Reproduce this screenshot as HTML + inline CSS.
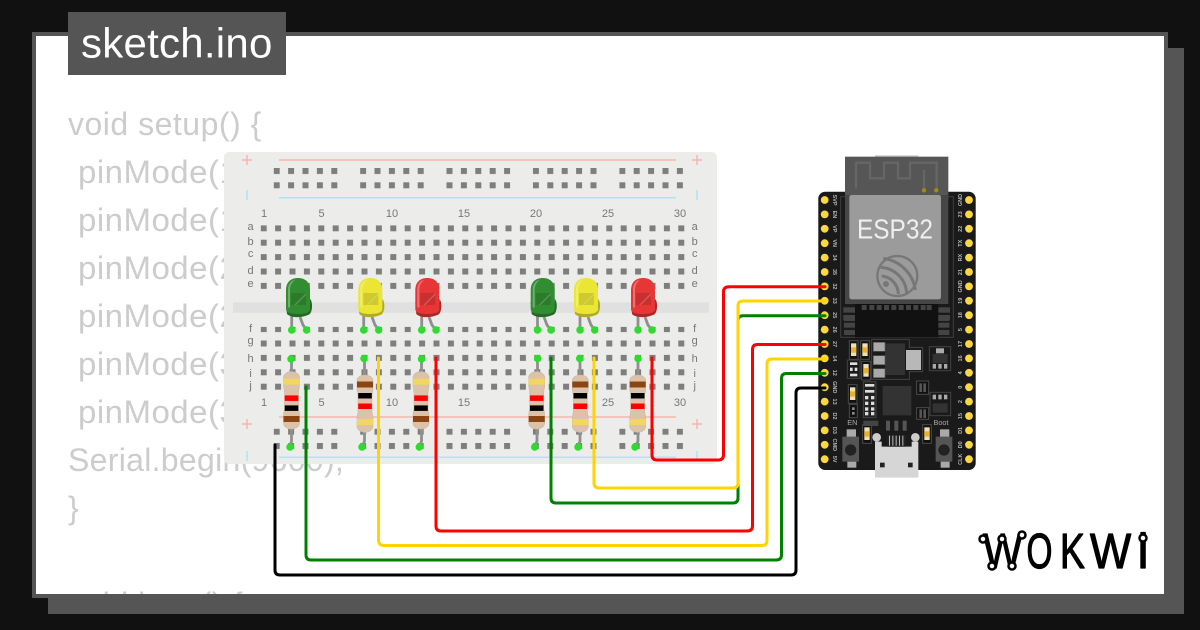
<!DOCTYPE html>
<html><head><meta charset="utf-8"><title>sketch.ino</title>
<style>html,body{margin:0;padding:0;background:#111}svg{display:block}text{font-family:"Liberation Sans",sans-serif}</style></head>
<body>
<svg xmlns="http://www.w3.org/2000/svg" width="1200" height="630" viewBox="0 0 1200 630">
<defs>
<clipPath id="cc"><rect x="36" y="36" width="1128" height="558"/></clipPath>
<pattern id="hm" patternUnits="userSpaceOnUse" x="260.7" y="225.3" width="14.4" height="14.4"><rect width="6" height="6" fill="#7e7e7e"/></pattern>
<pattern id="hp" patternUnits="userSpaceOnUse" x="273.7" y="168" width="14.4" height="14.3"><rect width="6" height="6" fill="#7e7e7e"/></pattern>
<g id="pw">
<rect x="273.7" y="168" width="64" height="22" fill="url(#hp)"/>
<rect x="360.1" y="168" width="64" height="22" fill="url(#hp)"/>
<rect x="446.5" y="168" width="64" height="22" fill="url(#hp)"/>
<rect x="532.9" y="168" width="64" height="22" fill="url(#hp)"/>
<rect x="619.3" y="168" width="64" height="22" fill="url(#hp)"/>
</g>
<path id="rb" d="M-8 6C-8 2-4 0 0 0S8 2 8 6V13C8 17 7 18 7 21V36C7 39 8 40 8 44V51C8 55 4 57.3 0 57.3S-8 55-8 51V44C-8 40-7 39-7 36V21C-7 18-8 17-8 13Z" fill="#dcc2a8" stroke="#cdb79f" stroke-width=".6"/>
<g id="r1"><use href="#rb"/>
<rect x="-8" y="7" width="16" height="6" fill="#f2d75f"/><rect x="-6.8" y="23.7" width="13.600" height="5.5" fill="#f00"/><rect x="-6.8" y="33.7" width="13.600" height="5.5" fill="#000"/><rect x="-8" y="44.3" width="16" height="6" fill="#8b4513"/></g>
<g id="r2"><use href="#rb"/>
<rect x="-8" y="6.5" width="16" height="6" fill="#8b4513"/><rect x="-6.8" y="18" width="13.600" height="5.5" fill="#000"/><rect x="-6.8" y="28.5" width="13.600" height="5.5" fill="#f00"/><rect x="-8" y="44" width="16" height="6" fill="#f2d75f"/></g>
<g id="led">
<path d="M0 24H24V21C27 23 27 36 22 37C15 40 5 40 1 36Z" fill="currentColor"/>
<path d="M0 24H24V21C27 23 27 36 22 37C15 40 5 40 1 36Z" fill="#000" opacity=".25"/>
<path d="M0 12C0 4 5 0 12 0S24 4 24 12V31C24 35 18 36 12 36S0 35 0 31Z" fill="currentColor"/>
<path d="M5 15H20V27H5Z" fill="#000" opacity=".12"/>
<path d="M10 27L20 17V15L8 27Z" fill="#fff" opacity=".2"/>
<path d="M2 12C2 6 5 2.500 9 2C5 5 4 8 4 13V30L2 29Z" fill="#fff" opacity=".3"/>
</g>
<g id="gcap"><rect x="-13" y="-28" width="26" height="56" fill="#111" stroke="#4a4a4a" stroke-width="3"/><rect x="-8" y="-20" width="16" height="38" fill="#eee1b8"/><rect x="-8" y="-8" width="16" height="16" fill="#e8b32a"/></g>
</defs>

<rect width="1200" height="630" fill="#111"/>
<rect x="48" y="48" width="1136" height="566" fill="#555"/>
<rect x="32" y="32" width="1136" height="566" fill="#555"/>
<rect x="36" y="36" width="1128" height="558" fill="#fff"/>

<g clip-path="url(#cc)" fill="#ccc" font-size="32" letter-spacing=".5">
<text x="68" y="135">void setup() {</text>
<text transform="translate(78 183) scale(1.03 1)">pinMode(13, OUTPUT);</text>
<text transform="translate(78 231) scale(1.03 1)">pinMode(12, OUTPUT);</text>
<text transform="translate(78 279) scale(1.03 1)">pinMode(25, OUTPUT);</text>
<text transform="translate(78 327) scale(1.03 1)">pinMode(26, OUTPUT);</text>
<text transform="translate(78 375) scale(1.03 1)">pinMode(32, OUTPUT);</text>
<text transform="translate(78 423) scale(1.03 1)">pinMode(33, OUTPUT);</text>
<text x="68" y="471" letter-spacing=".3">Serial.begin(9600);</text>
<text x="68" y="519">}</text>
<text x="68" y="615">void loop() {</text>
</g>

<rect x="68" y="12" width="218" height="63" fill="#555"/>
<text x="81" y="57.500" font-size="42" fill="#fff" letter-spacing=".25">sketch.ino</text>

<!-- breadboard -->
<rect x="224" y="152" width="493" height="312" rx="5" fill="#ececeb"/>
<rect x="233" y="302.300" width="476" height="10.500" fill="#e0e0e0"/>
<g stroke-width="1.500" fill="none">
<path d="M279 160H676M279 417H676" stroke="#f5b5ad"/>
<path d="M279 197.700H676M279 457.300H676" stroke="#aee3f3"/>
<path d="M242 160H252M247 155V165M692 160H702M697 155V165M242 424H252M247 419V429M692 424H702M697 419V429" stroke="#f5b5ad"/>
<path d="M247 190V200M697 190V200M247 451V461M697 451V461" stroke="#aee3f3"/>
</g>
<rect x="260.700" y="225.300" width="426" height="64" fill="url(#hm)"/>
<rect x="260.700" y="326.900" width="426" height="64" fill="url(#hm)"/>
<use href="#pw"/>
<use href="#pw" y="260.700"/>

<g font-size="11" fill="#777" text-anchor="middle">
<text x="264" y="217">1</text><text x="321.600" y="217">5</text><text x="392" y="217">10</text><text x="464" y="217">15</text><text x="536" y="217">20</text><text x="608" y="217">25</text><text x="680" y="217">30</text>
<text x="264" y="406">1</text><text x="321.600" y="406">5</text><text x="392" y="406">10</text><text x="464" y="406">15</text><text x="608" y="406">25</text><text x="680" y="406">30</text>
<text x="250.600" y="230">a</text><text x="250.600" y="245">b</text><text x="250.600" y="257">c</text><text x="250.600" y="274">d</text><text x="250.600" y="287">e</text>
<text x="250.600" y="332">f</text><text x="250.600" y="344">g</text><text x="250.600" y="362">h</text><text x="250.600" y="377">i</text><text x="250.600" y="389">j</text>
<text x="694.700" y="230">a</text><text x="694.700" y="245">b</text><text x="694.700" y="257">c</text><text x="694.700" y="274">d</text><text x="694.700" y="287">e</text>
<text x="694.700" y="332">f</text><text x="694.700" y="344">g</text><text x="694.700" y="362">h</text><text x="694.700" y="377">i</text><text x="694.700" y="389">j</text>
</g>

<!-- LED legs -->
<g stroke="#8f8f8f" stroke-width="2.800" fill="none">
<path d="M291.700 315V330M300 317L303 325L306.600 330"/>
<path d="M363.700 315V330M372 317L375 325L378.700 330"/>
<path d="M421.700 315V330M429 317L432 325L436 330"/>
<path d="M537.500 315V330M544 317L547 325L551 330"/>
<path d="M580 315V330M588 317L591 325L594.700 330"/>
<path d="M638 315V330M645 317L648 325L652 330"/>
<!-- resistor leads -->
<path d="M291.500 359V375M291.500 425V441L290 447"/>
<path d="M364.500 358V378M364.500 428V441L362 447"/>
<path d="M421.500 359V375M421.500 425V441L419.300 447"/>
<path d="M537.500 358V375M537 425V441L534.700 447"/>
<path d="M580 358V378M580 428V441L578 447"/>
<path d="M638 358V378M638 428V441L635 447"/>
</g>

<use href="#led" x="286" y="278" style="color:#328c32"/>
<use href="#led" x="358.300" y="278" style="color:#ebe534"/>
<use href="#led" x="415.300" y="278" style="color:#e63636"/>
<use href="#led" x="530.700" y="278" style="color:#328c32"/>
<use href="#led" x="574" y="278" style="color:#ebe534"/>
<use href="#led" x="631" y="278" style="color:#e63636"/>

<use href="#r1" x="291.500" y="371.700"/>
<use href="#r2" x="365" y="375"/>
<use href="#r1" x="421" y="371.700"/>
<use href="#r1" x="536.700" y="371.700"/>
<use href="#r2" x="580.300" y="375"/>
<use href="#r2" x="637.700" y="375"/>

<g fill="#4c4" stroke="#1be81b" stroke-width="1.500">
<circle cx="291.700" cy="330" r="3"/><circle cx="306.600" cy="330" r="3"/><circle cx="363.700" cy="330" r="3"/><circle cx="378.700" cy="330" r="3"/><circle cx="421.700" cy="330" r="3"/><circle cx="436" cy="330" r="3"/>
<circle cx="537.500" cy="330" r="3"/><circle cx="551" cy="330" r="3"/><circle cx="580" cy="330" r="3"/><circle cx="594.700" cy="330" r="3"/><circle cx="638" cy="330" r="3"/><circle cx="652" cy="330" r="3"/>
<circle cx="291" cy="359" r="3"/><circle cx="364" cy="358.500" r="3"/><circle cx="421.500" cy="359" r="3"/><circle cx="537.700" cy="358.500" r="3"/><circle cx="579.700" cy="358.500" r="3"/><circle cx="638" cy="358.500" r="3"/>
<circle cx="290" cy="447" r="3"/><circle cx="362" cy="447" r="3"/><circle cx="419.300" cy="447" r="3"/><circle cx="534.700" cy="447" r="3"/><circle cx="578" cy="447" r="3"/><circle cx="635" cy="447" r="3"/>
</g>

<!-- ESP32 -->
<rect x="818.300" y="191.700" width="157.400" height="278.300" rx="7" fill="#1a1a1a"/>
<g transform="translate(810 150) scale(.33333)">
<rect x="195" y="16" width="130" height="6" fill="#c8c8c8"/>
<rect x="105" y="20" width="310" height="130" fill="#565656"/>
<path d="M138 115V38H180V85H222V38H264V85H300V38H345V38H380V115M342 115V60" fill="none" stroke="#666" stroke-width="7"/>
<circle cx="342" cy="121" r="6.500" fill="#a58a12"/><circle cx="379" cy="121" r="6.500" fill="#a58a12"/>
<rect x="92" y="140" width="338" height="422" fill="none" stroke="#3e3e3e" stroke-width="3"/>
<rect x="135" y="462" width="250" height="100" fill="#111"/>
<rect x="105" y="135" width="310" height="327" fill="#464646"/>
<rect x="118" y="135" width="275" height="313" rx="7" fill="#9b9b9b"/>
<text x="255" y="265" font-size="84" fill="#efefef" text-anchor="middle" textLength="228" lengthAdjust="spacingAndGlyphs">ESP32</text>
<g fill="none" stroke="#777" stroke-width="7">
<circle cx="262" cy="378" r="60"/>
<path d="M212 352A82 82 0 0 1 290 432M220 325A112 112 0 0 1 316 420M215 378A55 55 0 0 1 265 432" stroke-width="9"/>
</g>
<circle cx="228" cy="402" r="9" fill="#777"/>
<g fill="#444"><rect x="155" y="465" width="15" height="15"/><rect x="178" y="465" width="15" height="15"/><rect x="200" y="465" width="15" height="15"/><rect x="222" y="465" width="15" height="15"/><rect x="244" y="465" width="15" height="15"/><rect x="266" y="465" width="15" height="15"/><rect x="288" y="465" width="15" height="15"/><rect x="310" y="465" width="15" height="15"/><rect x="332" y="465" width="15" height="15"/><rect x="350" y="465" width="15" height="15"/>
<rect x="100" y="472" width="35" height="16"/><rect x="100" y="495" width="35" height="16"/><rect x="385" y="472" width="35" height="16"/><rect x="385" y="495" width="35" height="16"/></g>
</g>
<g transform="translate(810 310) scale(.33333)">
<g fill="#444"><rect x="102" y="15" width="33" height="18"/><rect x="102" y="38" width="33" height="15"/><rect x="102" y="60" width="33" height="15"/><rect x="385" y="15" width="33" height="18"/><rect x="385" y="38" width="33" height="15"/><rect x="385" y="60" width="33" height="15"/></g>
<use href="#gcap" x="131" y="120"/><use href="#gcap" x="165" y="120"/><use href="#gcap" x="168" y="182"/><use href="#gcap" x="128" y="252"/><use href="#gcap" x="171" y="372"/><use href="#gcap" x="351" y="372"/>
<path d="M185 88H298V112H338V185H298V208H185Z" fill="none" stroke="#444" stroke-width="3"/>
<rect x="225" y="100" width="60" height="95" fill="#333"/>
<g fill="#a9a9a9" stroke="#555" stroke-width="2"><rect x="190" y="97" width="35" height="27"/><rect x="190" y="137" width="35" height="27"/><rect x="190" y="176" width="35" height="27"/></g>
<rect x="288" y="120" width="45" height="60" fill="#b8b8b8"/>
<rect x="112" y="150" width="38" height="55" fill="none" stroke="#444" stroke-width="3"/>
<g fill="#ddd"><rect x="120" y="157" width="22" height="8"/><rect x="120" y="173" width="8" height="10"/><rect x="134" y="173" width="8" height="10"/><rect x="120" y="191" width="22" height="8"/></g>
<rect x="358" y="110" width="64" height="72" fill="none" stroke="#444" stroke-width="3"/>
<rect x="378" y="115" width="24" height="15" fill="#aaa"/><rect x="368" y="132" width="45" height="28" fill="#333"/>
<g fill="#aaa"><rect x="368" y="162" width="10" height="14"/><rect x="385" y="162" width="10" height="14"/><rect x="402" y="162" width="10" height="14"/></g>
<rect x="360" y="247" width="62" height="70" fill="none" stroke="#444" stroke-width="3"/>
<rect x="368" y="280" width="45" height="28" fill="#333"/>
<g fill="#aaa"><rect x="368" y="254" width="10" height="14"/><rect x="385" y="254" width="10" height="14"/><rect x="402" y="254" width="10" height="14"/></g>
<rect x="218" y="228" width="86" height="88" fill="#333"/>
<rect x="160" y="215" width="38" height="108" fill="#222" stroke="#444" stroke-width="3"/>
<g fill="#ddd"><rect x="165" y="222" width="28" height="8"/><rect x="165" y="240" width="28" height="8"/><rect x="165" y="258" width="10" height="10"/><rect x="183" y="258" width="10" height="10"/><rect x="165" y="275" width="10" height="10"/><rect x="183" y="275" width="10" height="10"/><rect x="165" y="292" width="10" height="10"/><rect x="183" y="292" width="10" height="10"/><rect x="165" y="306" width="10" height="10"/><rect x="183" y="306" width="10" height="10"/></g>
<rect x="118" y="283" width="24" height="40" fill="#111" stroke="#4a4a4a" stroke-width="3"/>
<g fill="#888"><rect x="126" y="292" width="8" height="8"/><rect x="126" y="306" width="8" height="8"/></g>
<rect x="320" y="213" width="36" height="40" fill="#111" stroke="#4a4a4a" stroke-width="3"/>
<rect x="320" y="293" width="36" height="35" fill="#111" stroke="#4a4a4a" stroke-width="3"/>
<g fill="#555"><rect x="328" y="220" width="8" height="26"/><rect x="340" y="220" width="8" height="26"/><rect x="328" y="298" width="8" height="26"/><rect x="340" y="298" width="8" height="26"/></g>
<rect x="160" y="332" width="45" height="16" fill="#444"/>
<g fill="#555"><rect x="228" y="332" width="12" height="30"/><rect x="253" y="332" width="12" height="30"/><rect x="278" y="332" width="12" height="30"/></g>
<text x="127" y="345" font-size="22" fill="#aaa" text-anchor="middle">EN</text>
<text x="393" y="345" font-size="22" fill="#aaa" text-anchor="middle">Boot</text>
<rect x="97" y="380" width="50" height="75" fill="#555"/><rect x="110" y="358" width="28" height="22" fill="#aaa"/><rect x="112" y="455" width="27" height="18" fill="#aaa"/><circle cx="122" cy="420" r="17" fill="#222"/>
<rect x="377" y="380" width="50" height="75" fill="#555"/><rect x="390" y="358" width="28" height="22" fill="#aaa"/><rect x="392" y="455" width="27" height="18" fill="#aaa"/><circle cx="402" cy="420" r="17" fill="#222"/>
<circle cx="200" cy="382" r="13" fill="#ccc"/><circle cx="316" cy="382" r="13" fill="#ccc"/>
<path d="M195 395H215V410H305V395H325V503H195Z" fill="#d6d6d6"/>
<rect x="232" y="375" width="55" height="35" fill="#222"/>
<g fill="#bbb"><rect x="237" y="377" width="3" height="30"/><rect x="247" y="377" width="3" height="30"/><rect x="257" y="377" width="3" height="30"/><rect x="267" y="377" width="3" height="30"/><rect x="277" y="377" width="3" height="30"/></g>
<rect x="210" y="458" width="14" height="14" fill="#222"/><rect x="294" y="458" width="14" height="14" fill="#222"/>
</g>

<g fill="#fbd83f">
<circle cx="824.700" cy="200" r="3.900"/><circle cx="824.700" cy="214.400" r="3.900"/><circle cx="824.700" cy="228.800" r="3.900"/><circle cx="824.700" cy="243.200" r="3.900"/><circle cx="824.700" cy="257.600" r="3.900"/><circle cx="824.700" cy="272" r="3.900"/><circle cx="824.700" cy="286.400" r="3.900"/><circle cx="824.700" cy="300.800" r="3.900"/><circle cx="824.700" cy="315.200" r="3.900"/><circle cx="824.700" cy="329.600" r="3.900"/><circle cx="824.700" cy="344" r="3.900"/><circle cx="824.700" cy="358.400" r="3.900"/><circle cx="824.700" cy="372.800" r="3.900"/><circle cx="824.700" cy="387.200" r="3.900"/><circle cx="824.700" cy="401.600" r="3.900"/><circle cx="824.700" cy="416" r="3.900"/><circle cx="824.700" cy="430.400" r="3.900"/><circle cx="824.700" cy="444.800" r="3.900"/><circle cx="824.700" cy="459.200" r="3.900"/>
<circle cx="969" cy="200" r="3.900"/><circle cx="969" cy="214.400" r="3.900"/><circle cx="969" cy="228.800" r="3.900"/><circle cx="969" cy="243.200" r="3.900"/><circle cx="969" cy="257.600" r="3.900"/><circle cx="969" cy="272" r="3.900"/><circle cx="969" cy="286.400" r="3.900"/><circle cx="969" cy="300.800" r="3.900"/><circle cx="969" cy="315.200" r="3.900"/><circle cx="969" cy="329.600" r="3.900"/><circle cx="969" cy="344" r="3.900"/><circle cx="969" cy="358.400" r="3.900"/><circle cx="969" cy="372.800" r="3.900"/><circle cx="969" cy="387.200" r="3.900"/><circle cx="969" cy="401.600" r="3.900"/><circle cx="969" cy="416" r="3.900"/><circle cx="969" cy="430.400" r="3.900"/><circle cx="969" cy="444.800" r="3.900"/><circle cx="969" cy="459.200" r="3.900"/>
</g>
<g font-size="5.500" fill="#b5b5b5" text-anchor="middle" font-weight="bold">
<text transform="translate(833 200) rotate(90)">SVP</text><text transform="translate(833 214.400) rotate(90)">EN</text><text transform="translate(833 228.800) rotate(90)">VP</text><text transform="translate(833 243.200) rotate(90)">VN</text><text transform="translate(833 257.600) rotate(90)">34</text><text transform="translate(833 272) rotate(90)">35</text><text transform="translate(833 286.400) rotate(90)">32</text><text transform="translate(833 300.800) rotate(90)">33</text><text transform="translate(833 315.200) rotate(90)">25</text><text transform="translate(833 329.600) rotate(90)">26</text><text transform="translate(833 344) rotate(90)">27</text><text transform="translate(833 358.400) rotate(90)">14</text><text transform="translate(833 372.800) rotate(90)">12</text><text transform="translate(833 387.200) rotate(90)">GND</text><text transform="translate(833 401.600) rotate(90)">13</text><text transform="translate(833 416) rotate(90)">D2</text><text transform="translate(833 430.400) rotate(90)">D3</text><text transform="translate(833 444.800) rotate(90)">CMD</text><text transform="translate(833 459.200) rotate(90)">5V</text>
<text transform="translate(962 200) rotate(-90)">GND</text><text transform="translate(962 214.400) rotate(-90)">23</text><text transform="translate(962 228.800) rotate(-90)">22</text><text transform="translate(962 243.200) rotate(-90)">TX</text><text transform="translate(962 257.600) rotate(-90)">RX</text><text transform="translate(962 272) rotate(-90)">21</text><text transform="translate(962 286.400) rotate(-90)">GND</text><text transform="translate(962 300.800) rotate(-90)">19</text><text transform="translate(962 315.200) rotate(-90)">18</text><text transform="translate(962 329.600) rotate(-90)">5</text><text transform="translate(962 344) rotate(-90)">17</text><text transform="translate(962 358.400) rotate(-90)">16</text><text transform="translate(962 372.800) rotate(-90)">4</text><text transform="translate(962 387.200) rotate(-90)">0</text><text transform="translate(962 401.600) rotate(-90)">2</text><text transform="translate(962 416) rotate(-90)">15</text><text transform="translate(962 430.400) rotate(-90)">D1</text><text transform="translate(962 444.800) rotate(-90)">D0</text><text transform="translate(962 459.200) rotate(-90)">CLK</text>
</g>

<!-- wires -->
<g fill="none" stroke-width="3" stroke-linecap="round">
<path stroke="#000" d="M275 445V570Q275 575 280 575H791Q796 575 796 570V393Q796 388 801 388H825"/>
<path stroke="#008000" d="M306 387V555Q306 560 311 560H776Q781.500 560 781.500 555V378.500Q781.500 373.500 786.500 373.500H825"/>
<path stroke="#ffd400" d="M378.500 358V540Q378.500 545.500 384 545.500H762Q767 545.500 767 540V364Q767 359 772 359H825"/>
<path stroke="#f00" d="M436 358V526Q436 531 441 531H747Q752.500 531 752.500 526V349.500Q752.500 344.500 757.500 344.500H825"/>
<path stroke="#008000" d="M551 358V498Q551 503 556 503H733Q738 503 738 498V321Q738 315.700 743 315.700H825"/>
<path stroke="#ffd400" d="M594 358V483Q594 488 599 488H733Q738 488 738 483V306Q738 301 743 301H825"/>
<path stroke="#f00" d="M652 358V455Q652 460 657 460H718Q723.500 460 723.500 455V292Q723.500 286.700 729 286.700H825"/>
</g>

<!-- logo -->
<g font-size="49" fill="#000" stroke="#000" stroke-width="1.200" stroke-linejoin="round">
<text transform="translate(983 568) scale(.85 1)">W</text>
<text transform="translate(1026.500 568) scale(.68 1)">O</text>
<text transform="translate(1060 568) scale(.76 1)">K</text>
<text transform="translate(1090 568) scale(.89 1)">W</text>
<text transform="translate(1137.600 568)">i</text>
</g>
<g fill="#fff" stroke="#000" stroke-width="2.500">
<circle cx="983" cy="539" r="3.500"/><circle cx="1002" cy="539" r="3.500"/><circle cx="1022" cy="535" r="3.500"/><circle cx="992" cy="566" r="3.500"/><circle cx="1012" cy="566" r="3.500"/><circle cx="1143" cy="538" r="3.500"/>
</g>
</svg>
</body></html>
